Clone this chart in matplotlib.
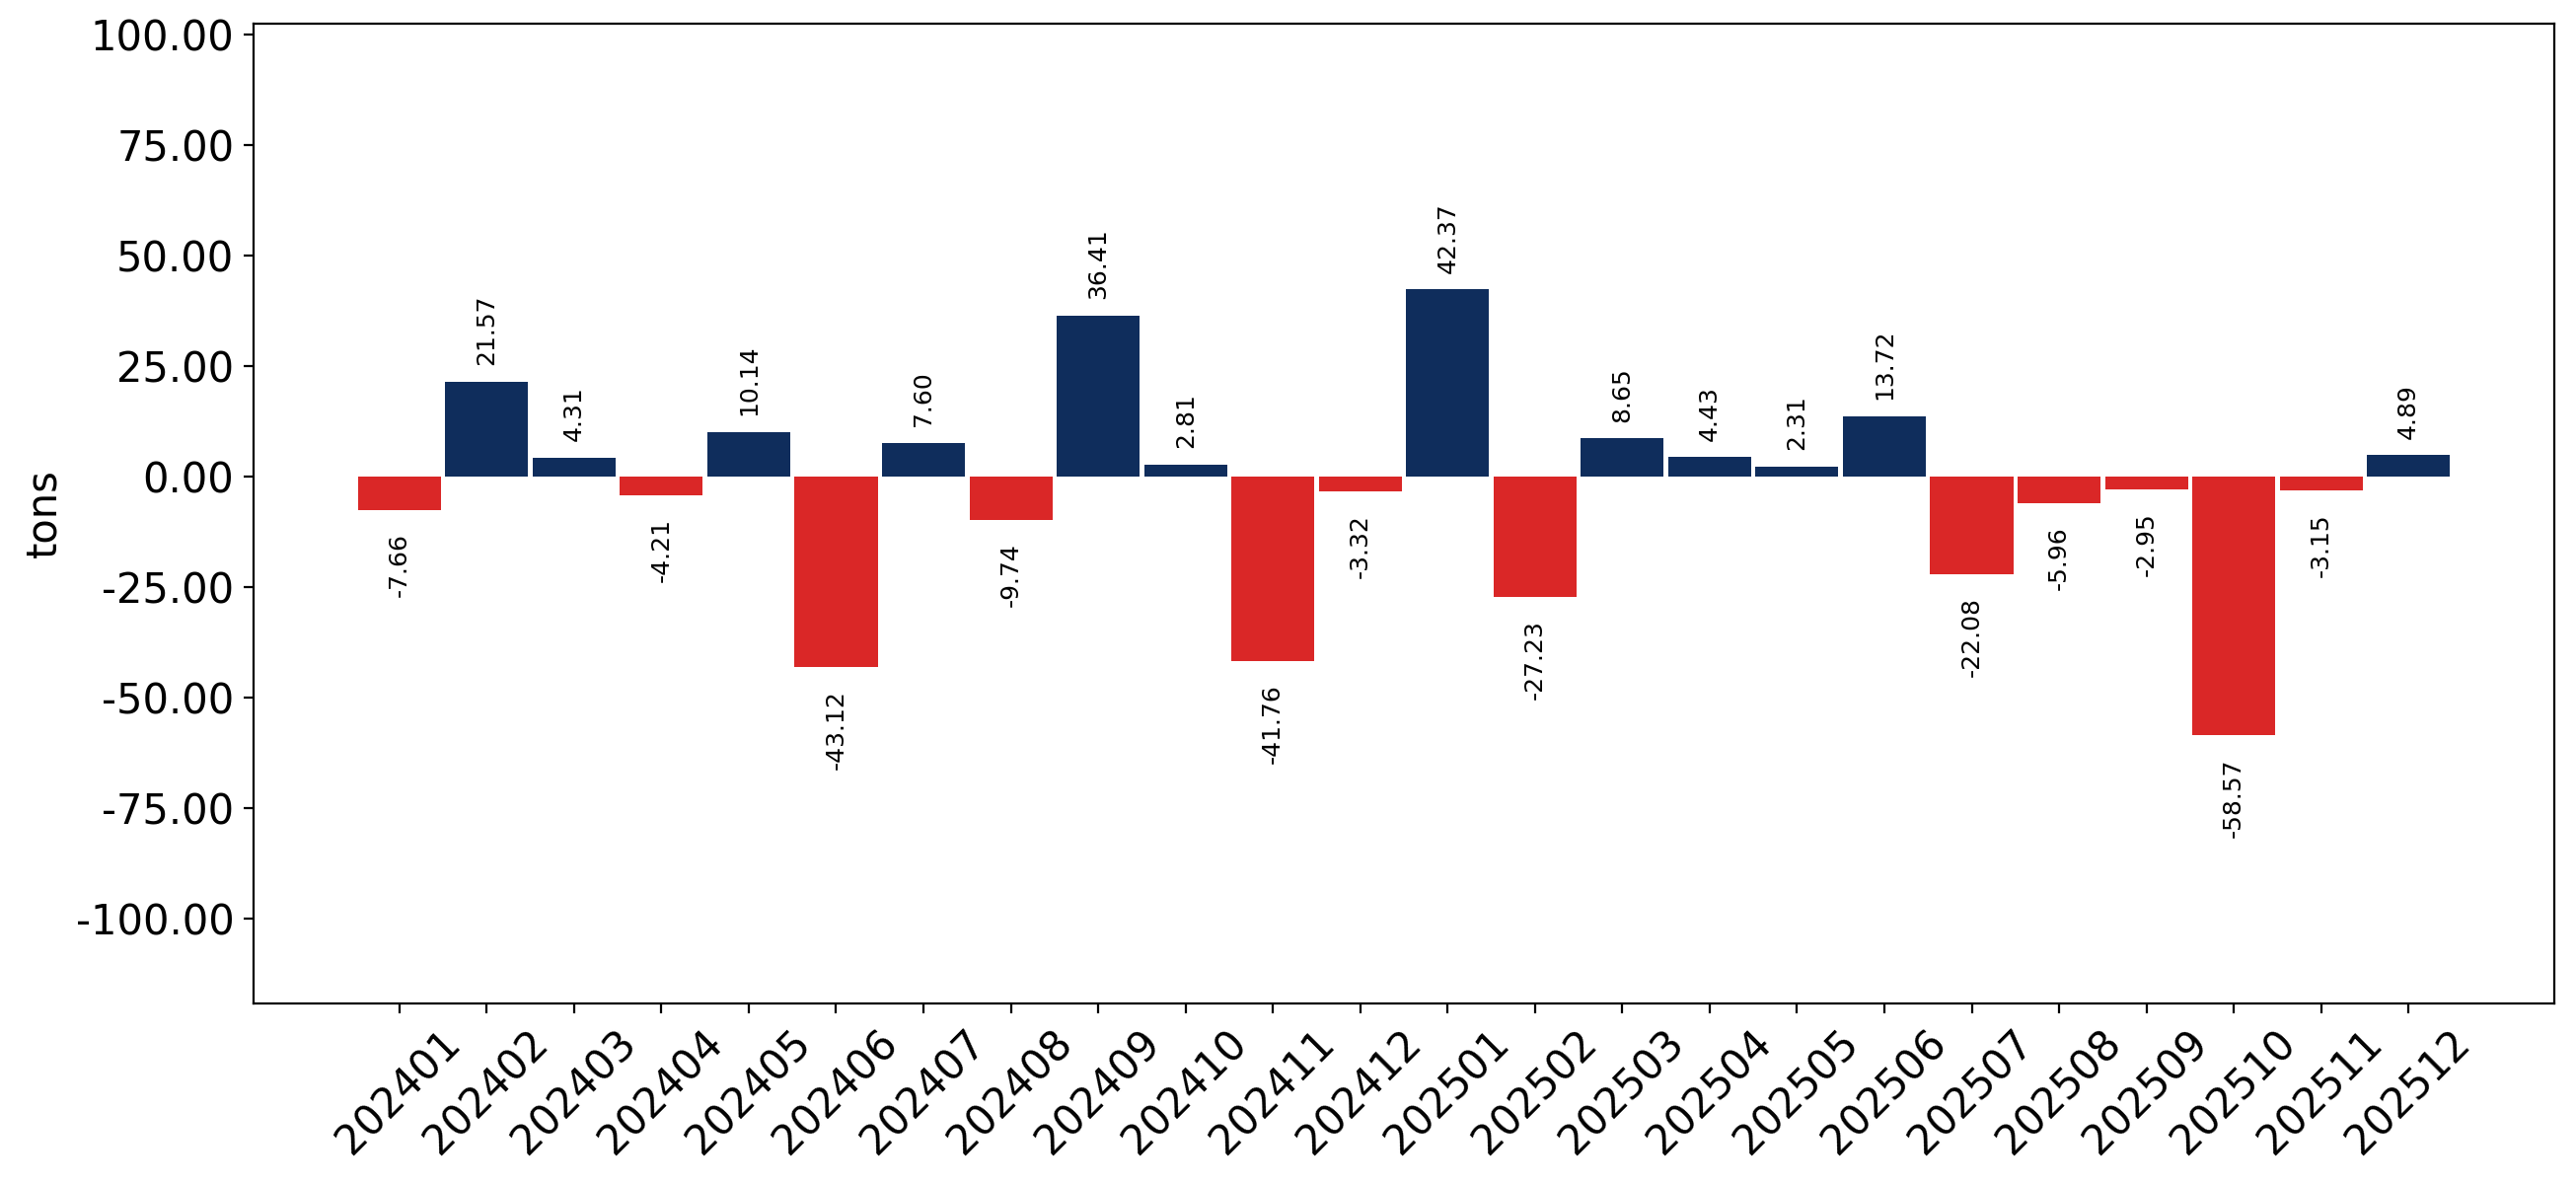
import matplotlib
matplotlib.use("Agg")
import matplotlib.pyplot as plt
from matplotlib.ticker import FormatStrFormatter

# monthly change, tons
months = ["202401", "202402", "202403", "202404", "202405", "202406",
          "202407", "202408", "202409", "202410", "202411", "202412",
          "202501", "202502", "202503", "202504", "202505", "202506",
          "202507", "202508", "202509", "202510", "202511", "202512"]
values = [-7.66, 21.57, 4.31, -4.21, 10.14, -43.12,
          7.60, -9.74, 36.41, 2.81, -41.76, -3.32,
          42.37, -27.23, 8.65, 4.43, 2.31, 13.72,
          -22.08, -5.96, -2.95, -58.57, -3.15, 4.89]

pos_color = "#0f2d5c"
neg_color = "#da2727"

fig, ax = plt.subplots(figsize=(13.055, 6.01), dpi=200)
fig.subplots_adjust(left=0.0984, right=0.9916, bottom=0.1539, top=0.980)

x = list(range(len(months)))
colors = [pos_color if v >= 0 else neg_color for v in values]
ax.bar(x, values, width=0.95, color=colors)

for xi, v in zip(x, values):
    if v >= 0:
        ax.annotate(f"{v:.2f}", (xi, v), xytext=(0, 6), textcoords="offset points",
                    ha="center", va="bottom", rotation=90, fontsize=9)
    else:
        ax.annotate(f"{v:.2f}", (xi, v), xytext=(0, -8.3), textcoords="offset points",
                    ha="center", va="top", rotation=90, fontsize=9)

ax.set_xlim(-1.67, 24.67)
ax.set_ylim(-119.2, 102.5)
ax.set_yticks([-100, -75, -50, -25, 0, 25, 50, 75, 100])
ax.yaxis.set_major_formatter(FormatStrFormatter("%.2f"))
ax.set_xticks(x)
ax.set_xticklabels(months, rotation=45, fontsize=15)
ax.tick_params(axis="y", labelsize=15)
ax.set_ylabel("tons", fontsize=15)

fig.savefig("out.png", dpi=200)
